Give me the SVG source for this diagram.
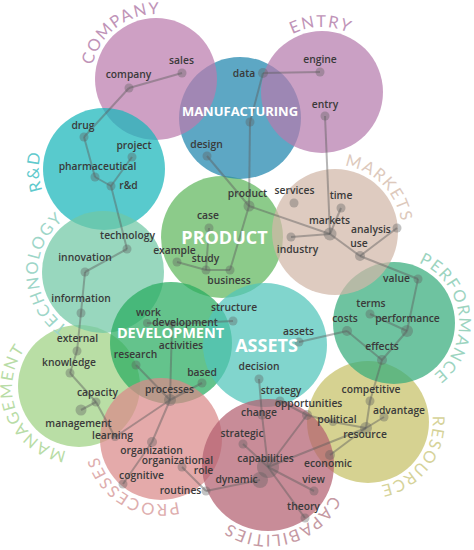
<svg xmlns="http://www.w3.org/2000/svg" width="474" height="550" viewBox="0 0 474 550">
<style>
.c{fill-opacity:0.72}
.arc{font-family:Lato,"Liberation Sans",sans-serif;font-weight:400;font-size:16.5px;letter-spacing:1.4px}
.w{font-family:"Open Sans","Liberation Sans",sans-serif;font-weight:600;font-size:10.3px;fill:#3a3a3a;text-anchor:middle}
.b{font-family:"Open Sans","Liberation Sans",sans-serif;font-weight:700;fill:#ffffff;text-anchor:middle}
.d{fill:#5e5e5e;fill-opacity:0.38}
#edges line{stroke:#5e5e5e;stroke-opacity:0.45;stroke-width:2}
</style>
<defs>
<path id="p-company" d="M98.1,108.5 A65,65 0 0 1 200.3,31.5"/>
<path id="p-entry" d="M257.8,81.8 A65,65 0 0 1 385.8,79.6"/>
<path id="p-markets" d="M296.6,177.1 A67,67 0 0 1 389.9,270.4"/>
<path id="p-performance" d="M397.4,258.1 A65,65 0 0 1 413.0,385.2"/>
<path id="p-resource" d="M415.5,377.7 A65,65 0 0 1 338.5,479.9"/>
<path id="p-capabilities" d="M337.7,458.9 A70,70 0 0 1 204.6,494.6"/>
<path id="p-processes" d="M210.8,480.8 A65,65 0 0 1 99.9,416.8"/>
<path id="p-management" d="M92.5,449.6 A64,64 0 0 1 45.2,331.7"/>
<path id="p-technology" d="M94.0,336.4 A65,65 0 0 1 89.5,208.4"/>
<path id="p-rd" d="M95.0,233.4 A65,65 0 0 1 90.5,105.4"/>
</defs>

<g id="clusters">
<g id="c-product"><circle class="c" cx="222" cy="237" r="61" fill="#5fb75d"/></g>
<g id="c-manufacturing"><circle class="c" cx="240" cy="118" r="61" fill="#1e85ad"/></g>
<g id="c-company"><circle class="c" cx="156" cy="79" r="61" fill="#bb7bad"/>
<text class="arc" fill="#bf94b8"><textPath href="#p-company" startOffset="50%" text-anchor="middle">COMPANY</textPath></text></g>
<g id="c-entry"><circle class="c" cx="322" cy="92" r="61" fill="#b57bad"/>
<text class="arc" fill="#bf94b8"><textPath href="#p-entry" startOffset="50%" text-anchor="middle">ENTRY</textPath></text></g>
<g id="c-rd"><circle class="c" cx="104" cy="169" r="61" fill="#17b5ba"/>
<text class="arc" fill="#5fcacd"><textPath href="#p-rd" startOffset="50%" text-anchor="middle">R&amp;D</textPath></text></g>
<g id="c-management"><circle class="c" cx="79" cy="386" r="61" fill="#9ed182"/>
<text class="arc" fill="#b8dca6"><textPath href="#p-management" startOffset="50%" text-anchor="middle">MANAGEMENT</textPath></text></g>
<g id="c-technology"><circle class="c" cx="103" cy="272" r="61" fill="#70c7a5"/>
<text class="arc" fill="#9dd6c8"><textPath href="#p-technology" startOffset="50%" text-anchor="middle">TECHNOLOGY</textPath></text></g>
<g id="c-development"><circle class="c" cx="171" cy="343" r="61" fill="#28ac5f"/></g>
<g id="c-assets"><circle class="c" cx="265" cy="345" r="62" fill="#51c5ba"/></g>
<g id="c-resource"><circle class="c" cx="368" cy="422" r="61" fill="#c6c166"/>
<text class="arc" fill="#d6d39a"><textPath href="#p-resource" startOffset="50%" text-anchor="middle">RESOURCE</textPath></text></g>
<g id="c-performance"><circle class="c" cx="394" cy="323" r="61" fill="#36ac7b"/>
<text class="arc" fill="#9cd4bf"><textPath href="#p-performance" startOffset="50%" text-anchor="middle">PERFORMANCE</textPath></text></g>
<g id="c-markets"><circle class="c" cx="335" cy="232" r="63" fill="#d1b7a7"/>
<text class="arc" fill="#ddc9bc"><textPath href="#p-markets" startOffset="50%" text-anchor="middle">MARKETS</textPath></text></g>
<g id="c-processes"><circle class="c" cx="161" cy="439" r="61" fill="#d98989"/>
<text class="arc" fill="#deaeae"><textPath href="#p-processes" startOffset="50%" text-anchor="middle">PROCESSES</textPath></text></g>
<g id="c-capabilities"><circle class="c" cx="268" cy="465" r="66" fill="#b35f70"/>
<text class="arc" fill="#c599a3"><textPath href="#p-capabilities" startOffset="50%" text-anchor="middle">CAPABILITIES</textPath></text></g>
</g>

<g id="edges">
<line x1="182" y1="73" x2="129" y2="88"/>
<line x1="129" y1="88" x2="84" y2="137"/>
<line x1="84" y1="137" x2="95" y2="177"/>
<line x1="95" y1="177" x2="111" y2="186"/>
<line x1="132" y1="157" x2="111" y2="186"/>
<line x1="111" y1="186" x2="127" y2="249"/>
<line x1="127" y1="249" x2="85" y2="272"/>
<line x1="85" y1="272" x2="81" y2="313"/>
<line x1="81" y1="313" x2="77" y2="351"/>
<line x1="77" y1="351" x2="70" y2="373"/>
<line x1="70" y1="373" x2="96" y2="402"/>
<line x1="96" y1="402" x2="81" y2="410"/>
<line x1="96" y1="402" x2="115" y2="437"/>
<line x1="115" y1="437" x2="170" y2="400"/>
<line x1="170" y1="400" x2="136" y2="365"/>
<line x1="170" y1="400" x2="202" y2="383"/>
<line x1="170" y1="400" x2="152" y2="442"/>
<line x1="170" y1="400" x2="172" y2="324"/>
<line x1="152" y1="442" x2="123" y2="484"/>
<line x1="182" y1="467" x2="206" y2="491"/>
<line x1="206" y1="491" x2="260" y2="480"/>
<line x1="147" y1="323" x2="172" y2="324"/>
<line x1="172" y1="324" x2="233" y2="321"/>
<line x1="263" y1="73" x2="320" y2="72"/>
<line x1="263" y1="73" x2="250" y2="122"/>
<line x1="250" y1="122" x2="249" y2="206"/>
<line x1="207" y1="156" x2="249" y2="206"/>
<line x1="249" y1="206" x2="230" y2="270"/>
<line x1="230" y1="270" x2="206" y2="270"/>
<line x1="206" y1="270" x2="177" y2="262"/>
<line x1="206" y1="270" x2="209" y2="228"/>
<line x1="249" y1="206" x2="330" y2="234"/>
<line x1="325" y1="116" x2="330" y2="234"/>
<line x1="341" y1="208" x2="330" y2="234"/>
<line x1="291" y1="237" x2="330" y2="234"/>
<line x1="330" y1="234" x2="360" y2="256"/>
<line x1="360" y1="256" x2="397" y2="228"/>
<line x1="360" y1="256" x2="418" y2="279"/>
<line x1="418" y1="279" x2="407" y2="331"/>
<line x1="370" y1="314" x2="407" y2="331"/>
<line x1="407" y1="331" x2="382" y2="360"/>
<line x1="347" y1="331" x2="382" y2="360"/>
<line x1="347" y1="331" x2="299" y2="342"/>
<line x1="382" y1="360" x2="370" y2="401"/>
<line x1="370" y1="401" x2="366" y2="428"/>
<line x1="366" y1="428" x2="384" y2="417"/>
<line x1="366" y1="428" x2="333" y2="422"/>
<line x1="333" y1="422" x2="307" y2="415"/>
<line x1="366" y1="428" x2="268" y2="467"/>
<line x1="366" y1="428" x2="330" y2="455"/>
<line x1="268" y1="467" x2="307" y2="415"/>
<line x1="307" y1="415" x2="280" y2="401"/>
<line x1="268" y1="467" x2="262" y2="415"/>
<line x1="262" y1="415" x2="259" y2="379"/>
<line x1="268" y1="467" x2="243" y2="444"/>
<line x1="268" y1="467" x2="314" y2="491"/>
<line x1="268" y1="467" x2="305" y2="518"/>
</g>

<g id="nodes">
<g id="n-sales"><circle class="d" cx="182" cy="73" r="4.5"/><text class="w" x="181.5" y="64">sales</text></g>
<g id="n-company"><circle class="d" cx="129" cy="88" r="4.5"/><text class="w" x="128.5" y="78">company</text></g>
<g id="n-drug"><circle class="d" cx="84" cy="137" r="4.5"/><text class="w" x="83" y="129">drug</text></g>
<g id="n-project"><circle class="d" cx="132" cy="157" r="4.5"/><text class="w" x="134" y="149">project</text></g>
<g id="n-pharmaceutical"><circle class="d" cx="95" cy="177" r="4.5"/><text class="w" x="97.5" y="170">pharmaceutical</text></g>
<g id="n-rd"><circle class="d" cx="111" cy="186" r="4.5"/><text class="w" x="128.5" y="189">r&amp;d</text></g>
<g id="n-technology"><circle class="d" cx="127" cy="249" r="4.5"/><text class="w" x="127.5" y="239">technology</text></g>
<g id="n-innovation"><circle class="d" cx="85" cy="272" r="4.5"/><text class="w" x="85" y="261">innovation</text></g>
<g id="n-information"><circle class="d" cx="81" cy="313" r="4.5"/><text class="w" x="81" y="302">information</text></g>
<g id="n-external"><circle class="d" cx="77" cy="351" r="4.5"/><text class="w" x="77.5" y="342">external</text></g>
<g id="n-knowledge"><circle class="d" cx="70" cy="373" r="4.5"/><text class="w" x="69" y="366">knowledge</text></g>
<g id="n-capacity"><circle class="d" cx="96" cy="402" r="4.5"/><text class="w" x="97.5" y="396">capacity</text></g>
<g id="n-management"><circle class="d" cx="81" cy="410" r="5.5"/><text class="w" x="78.5" y="427">management</text></g>
<g id="n-learning"><circle class="d" cx="115" cy="437" r="4"/><text class="w" x="112.5" y="439">learning</text></g>
<g id="n-processes"><circle class="d" cx="170" cy="400" r="6"/><text class="w" x="169.5" y="393">processes</text></g>
<g id="n-research"><circle class="d" cx="136" cy="365" r="4.5"/><text class="w" x="135.5" y="358">research</text></g>
<g id="n-based"><circle class="d" cx="202" cy="383" r="4.5"/><text class="w" x="202" y="376">based</text></g>
<g id="n-organization"><circle class="d" cx="152" cy="442" r="5"/><text class="w" x="151.5" y="454">organization</text></g>
<g id="n-organizational"><circle class="d" cx="182" cy="467" r="4.5"/><text class="w" x="177.5" y="464">organizational</text></g>
<g id="n-role"><text class="w" x="203.5" y="474">role</text></g>
<g id="n-cognitive"><circle class="d" cx="123" cy="484" r="4.5"/><text class="w" x="141.5" y="479">cognitive</text></g>
<g id="n-routines"><circle class="d" cx="206" cy="491" r="4.5"/><text class="w" x="180.5" y="494">routines</text></g>
<g id="n-dynamic"><circle class="d" cx="260" cy="480" r="8"/><text class="w" x="236.5" y="483">dynamic</text></g>
<g id="n-capabilities"><circle class="d" cx="268" cy="467" r="11"/><text class="w" x="265.5" y="462">capabilities</text></g>
<g id="n-strategic"><circle class="d" cx="243" cy="444" r="4.5"/><text class="w" x="242" y="437">strategic</text></g>
<g id="n-change"><circle class="d" cx="262" cy="415" r="4.5"/><text class="w" x="259" y="416">change</text></g>
<g id="n-decision"><circle class="d" cx="259" cy="379" r="4.5"/><text class="w" x="259" y="370">decision</text></g>
<g id="n-strategy"><circle class="d" cx="280" cy="401" r="4.5"/><text class="w" x="281" y="394">strategy</text></g>
<g id="n-opportunities"><circle class="d" cx="307" cy="415" r="5"/><text class="w" x="308.5" y="407">opportunities</text></g>
<g id="n-political"><circle class="d" cx="333" cy="422" r="4"/><text class="w" x="337" y="423">political</text></g>
<g id="n-resource"><circle class="d" cx="366" cy="428" r="6"/><text class="w" x="365" y="438">resource</text></g>
<g id="n-advantage"><circle class="d" cx="384" cy="417" r="4.5"/><text class="w" x="399" y="414">advantage</text></g>
<g id="n-competitive"><circle class="d" cx="370" cy="401" r="4.5"/><text class="w" x="371" y="393">competitive</text></g>
<g id="n-effects"><circle class="d" cx="382" cy="360" r="5"/><text class="w" x="382" y="350">effects</text></g>
<g id="n-economic"><circle class="d" cx="330" cy="455" r="5"/><text class="w" x="328" y="467">economic</text></g>
<g id="n-view"><circle class="d" cx="314" cy="491" r="4.5"/><text class="w" x="313.5" y="483">view</text></g>
<g id="n-theory"><circle class="d" cx="305" cy="518" r="4.5"/><text class="w" x="303.5" y="510">theory</text></g>
<g id="n-costs"><circle class="d" cx="347" cy="331" r="5"/><text class="w" x="345" y="322">costs</text></g>
<g id="n-performance"><circle class="d" cx="407" cy="331" r="6"/><text class="w" x="407.5" y="322">performance</text></g>
<g id="n-terms"><circle class="d" cx="370" cy="314" r="4.5"/><text class="w" x="371" y="307">terms</text></g>
<g id="n-value"><circle class="d" cx="418" cy="279" r="4.5"/><text class="w" x="396.5" y="282">value</text></g>
<g id="n-use"><circle class="d" cx="360" cy="256" r="5"/><text class="w" x="359" y="247">use</text></g>
<g id="n-analysis"><circle class="d" cx="397" cy="228" r="4.5"/><text class="w" x="371" y="233">analysis</text></g>
<g id="n-markets"><circle class="d" cx="330" cy="234" r="6.5"/><text class="w" x="329.5" y="224">markets</text></g>
<g id="n-industry"><circle class="d" cx="291" cy="237" r="4.5"/><text class="w" x="297.5" y="253">industry</text></g>
<g id="n-time"><circle class="d" cx="341" cy="208" r="4.5"/><text class="w" x="341" y="199">time</text></g>
<g id="n-services"><circle class="d" cx="294" cy="203" r="4.5"/><text class="w" x="294.5" y="194">services</text></g>
<g id="n-product"><circle class="d" cx="249" cy="206" r="5.5"/><text class="w" x="247.5" y="197">product</text></g>
<g id="n-data"><circle class="d" cx="263" cy="73" r="5"/><text class="w" x="244" y="77">data</text></g>
<g id="n-engine"><circle class="d" cx="320" cy="72" r="4.5"/><text class="w" x="320" y="63">engine</text></g>
<g id="n-entry"><circle class="d" cx="325" cy="116" r="4.5"/><text class="w" x="325" y="108">entry</text></g>
<g id="n-manuf"><circle class="d" cx="250" cy="122" r="4.5"/></g>
<g id="n-design"><circle class="d" cx="207" cy="156" r="4.5"/><text class="w" x="206.5" y="148">design</text></g>
<g id="n-case"><circle class="d" cx="209" cy="228" r="4.5"/><text class="w" x="208" y="219">case</text></g>
<g id="n-example"><circle class="d" cx="177" cy="262" r="4.5"/><text class="w" x="174.5" y="254">example</text></g>
<g id="n-study"><circle class="d" cx="206" cy="270" r="4.5"/><text class="w" x="205.5" y="262">study</text></g>
<g id="n-business"><circle class="d" cx="230" cy="270" r="4.5"/><text class="w" x="229" y="284">business</text></g>
<g id="n-structure"><circle class="d" cx="233" cy="321" r="4.5"/><text class="w" x="234" y="311">structure</text></g>
<g id="n-work"><circle class="d" cx="147" cy="323" r="4"/><text class="w" x="148.5" y="316">work</text></g>
<g id="n-development"><circle class="d" cx="172" cy="324" r="4"/><text class="w" x="185" y="326">development</text></g>
<g id="n-activities"><text class="w" x="181" y="349">activities</text></g>
<g id="n-assets"><circle class="d" cx="299" cy="342" r="4.5"/><text class="w" x="298.5" y="335">assets</text></g>
<g id="t-manufacturing"><text class="b" x="240" y="116" font-size="13">MANUFACTURING</text></g>
<g id="t-product"><text class="b" x="224.5" y="244" font-size="18">PRODUCT</text></g>
<g id="t-development"><text class="b" x="170.5" y="338" font-size="14.5">DEVELOPMENT</text></g>
<g id="t-assets"><text class="b" x="266.5" y="352" font-size="18">ASSETS</text></g>
</g>
</svg>
